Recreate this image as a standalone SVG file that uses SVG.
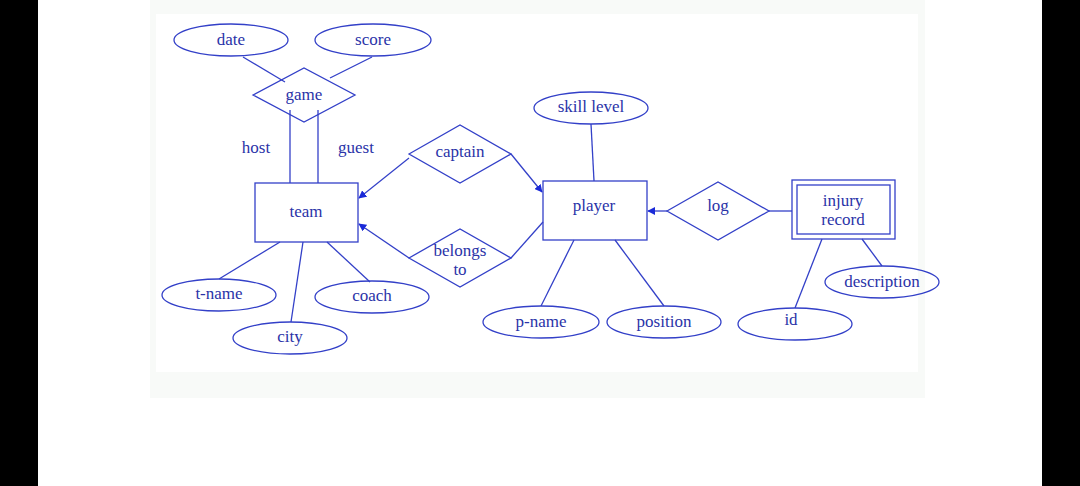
<svg xmlns="http://www.w3.org/2000/svg" width="1080" height="486" viewBox="0 0 1080 486">
<defs>
<style>
.s{fill:none;stroke:#3340c8;stroke-width:1.3}
.t{font-family:'Liberation Serif','DejaVu Serif',serif;font-size:17px;fill:#2a33a8;text-anchor:middle}
</style>
<marker id="a" viewBox="0 0 10 10" refX="9" refY="5" markerWidth="8" markerHeight="8" orient="auto" markerUnits="userSpaceOnUse"><path d="M0,0L10,5L0,10Z" fill="#1a2ad8"/></marker>
</defs>
<rect width="1080" height="486" fill="#fff"/>
<rect x="0" y="0" width="38" height="486" fill="#000"/>
<rect x="1042" y="0" width="38" height="486" fill="#000"/>
<rect x="150" y="0" width="775" height="398" fill="#f8faf8"/>
<rect x="156" y="14" width="762" height="358" fill="#fff"/>
<g id="connectors" class="s">
<line x1="243" y1="57" x2="285" y2="82"/>
<line x1="330" y1="78" x2="372" y2="57"/>
<line x1="290" y1="110" x2="290" y2="183"/>
<line x1="318" y1="110" x2="318" y2="183"/>
<line x1="409" y1="158" x2="359" y2="198" marker-end="url(#a)"/>
<line x1="511" y1="154" x2="542" y2="192" marker-end="url(#a)"/>
<line x1="409" y1="258" x2="359" y2="224" marker-end="url(#a)"/>
<line x1="511" y1="258" x2="543" y2="222"/>
<line x1="591" y1="124" x2="594" y2="181"/>
<line x1="667" y1="211" x2="648" y2="211" marker-end="url(#a)"/>
<line x1="769" y1="211" x2="792" y2="211"/>
<line x1="862" y1="239" x2="882" y2="266"/>
<line x1="822" y1="239" x2="795" y2="308"/>
<line x1="574" y1="240" x2="541" y2="306"/>
<line x1="615" y1="240" x2="664" y2="306"/>
<line x1="280" y1="242" x2="219" y2="279"/>
<line x1="327" y1="242" x2="370" y2="282"/>
<line x1="303" y1="242" x2="291" y2="322"/>
</g>
<g font-family="'Liberation Serif','DejaVu Serif',serif">
<text class="t" x="256" y="153">host</text>
<text class="t" x="356" y="153">guest</text>
<g id="date"><ellipse class="s" cx="231" cy="40" rx="57" ry="16"/><text class="t" x="231" y="45">date</text></g>
<g id="score"><ellipse class="s" cx="373" cy="40" rx="58" ry="16"/><text class="t" x="373" y="45">score</text></g>
<g id="game"><polygon class="s" points="253,95 304,68 355,95 304,122"/><text class="t" x="304" y="100">game</text></g>
<g id="team"><rect class="s" x="255" y="183" width="103" height="59"/><text class="t" x="306" y="217">team</text></g>
<g id="captain"><polygon class="s" points="409,154 460,125 511,154 460,183"/><text class="t" x="460" y="157">captain</text></g>
<g id="belongs"><polygon class="s" points="409,258 460,229 511,258 460,287"/><text class="t" x="460" y="256">belongs</text><text class="t" x="460" y="275">to</text></g>
<g id="player"><rect class="s" x="543" y="181" width="104" height="59"/><text class="t" x="594" y="211">player</text></g>
<g id="skill"><ellipse class="s" cx="591" cy="108" rx="57" ry="16"/><text class="t" x="591" y="112">skill level</text></g>
<g id="log"><polygon class="s" points="667,211 718,182 769,211 718,240"/><text class="t" x="718" y="211">log</text></g>
<g id="injury"><rect class="s" x="792" y="180" width="103" height="59"/><rect class="s" x="797" y="185" width="93" height="49"/><text class="t" x="843" y="206">injury</text><text class="t" x="843" y="225">record</text></g>
<g id="description"><ellipse class="s" cx="882" cy="282" rx="57" ry="16"/><text class="t" x="882" y="287">description</text></g>
<g id="id"><ellipse class="s" cx="795" cy="324" rx="57" ry="16"/><text class="t" x="791" y="325">id</text></g>
<g id="pname"><ellipse class="s" cx="541" cy="322" rx="58" ry="16"/><text class="t" x="541" y="327">p-name</text></g>
<g id="position"><ellipse class="s" cx="664" cy="322" rx="57" ry="16"/><text class="t" x="664" y="327">position</text></g>
<g id="tname"><ellipse class="s" cx="219" cy="295" rx="57" ry="16"/><text class="t" x="219" y="299">t-name</text></g>
<g id="coach"><ellipse class="s" cx="372" cy="297" rx="57" ry="16"/><text class="t" x="372" y="301">coach</text></g>
<g id="city"><ellipse class="s" cx="290" cy="338" rx="57" ry="16"/><text class="t" x="290" y="342">city</text></g>
</g>
</svg>
